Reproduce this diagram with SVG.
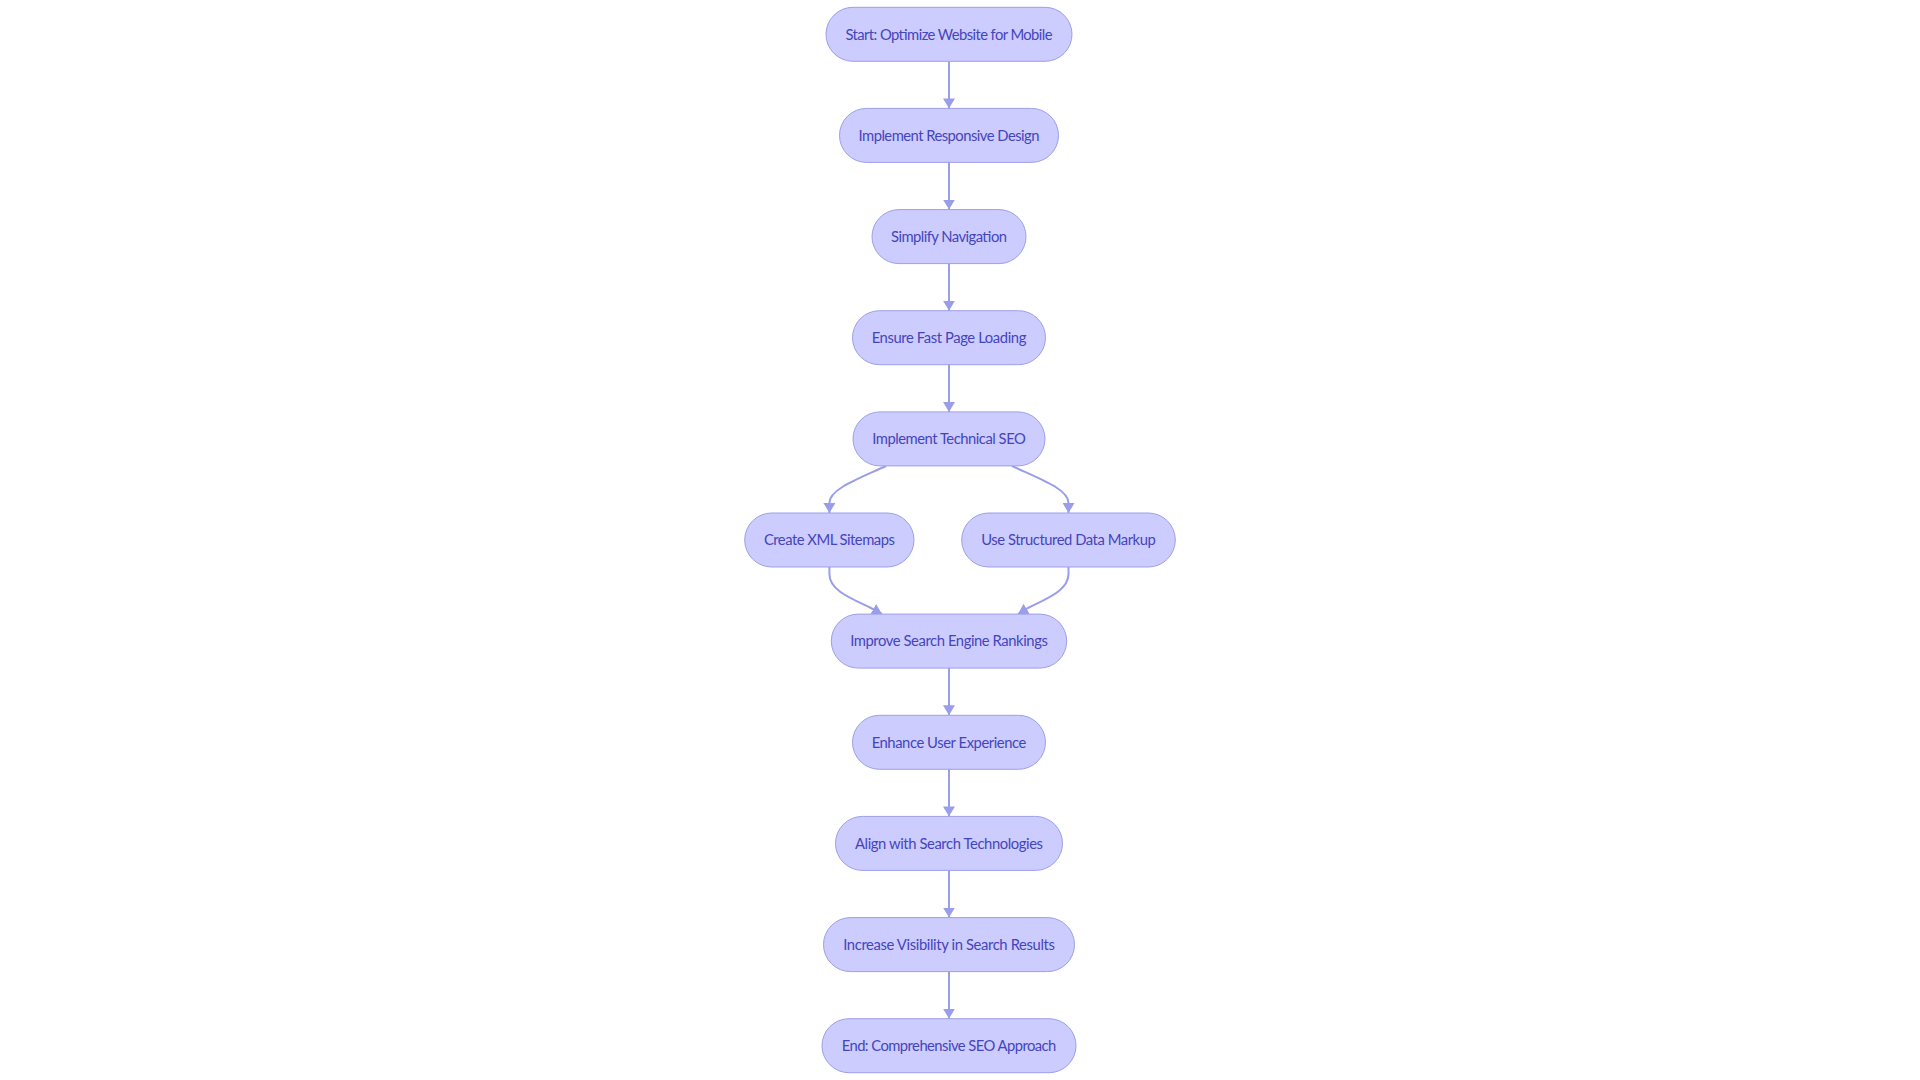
<svg xmlns="http://www.w3.org/2000/svg" width="1920" height="1080" viewBox="0 0 1920 1080">
<style>
.node rect{fill:#ccccff;stroke:#9c9fe8;stroke-width:1}
.node text{font-family:Lato,"Liberation Sans",sans-serif;font-size:14.8px;fill:#4545bb;text-anchor:middle}
.edge{fill:none;stroke:#9a9de9;stroke-width:2;marker-end:url(#arr)}
</style>
<defs>
<marker id="arr" viewBox="0 0 10 12" refX="10" refY="6" markerWidth="10" markerHeight="12" markerUnits="userSpaceOnUse" orient="auto"><path d="M0,0 L10,6 L0,12 z" fill="#9a9de9"/></marker>
</defs>
<rect width="1920" height="1080" fill="#ffffff"/>
<g id="connectors">
<path class="edge" d="M949,61.3 L949,108.4"/>
<path class="edge" d="M949,162.4 L949,209.6"/>
<path class="edge" d="M949,263.6 L949,310.7"/>
<path class="edge" d="M949,364.7 L949,411.9"/>
<path class="edge" d="M886,466 C858,479 829.4,489 829.4,503 L829.4,513"/>
<path class="edge" d="M1012,466 C1040,479 1068.5,489 1068.5,503 L1068.5,513"/>
<path class="edge" d="M829.4,567 L829.4,574 C829.4,590 850,598 870,607.5 L882,614"/>
<path class="edge" d="M1068.5,567 L1068.5,574 C1068.5,590 1048,598 1029,607.5 L1018,614"/>
<path class="edge" d="M949,668.1 L949,715.3"/>
<path class="edge" d="M949,769.3 L949,816.4"/>
<path class="edge" d="M949,870.4 L949,917.6"/>
<path class="edge" d="M949,971.6 L949,1018.7"/>
</g>
<g id="n0" class="node"><rect x="826" y="7.3" width="246" height="54" rx="27"/><text x="949" y="39.5" textLength="207" lengthAdjust="spacing">Start: Optimize Website for Mobile</text></g>
<g id="n1" class="node"><rect x="839.5" y="108.4" width="219" height="54" rx="27"/><text x="949" y="140.6" textLength="181" lengthAdjust="spacing">Implement Responsive Design</text></g>
<g id="n2" class="node"><rect x="872" y="209.6" width="154" height="54" rx="27"/><text x="949" y="241.8" textLength="116" lengthAdjust="spacing">Simplify Navigation</text></g>
<g id="n3" class="node"><rect x="852.5" y="310.7" width="193" height="54" rx="27"/><text x="949" y="342.9" textLength="154.7" lengthAdjust="spacing">Ensure Fast Page Loading</text></g>
<g id="n4" class="node"><rect x="853" y="411.9" width="192" height="54" rx="27"/><text x="949" y="444.1" textLength="153.7" lengthAdjust="spacing">Implement Technical SEO</text></g>
<g id="n5a" class="node"><rect x="744.7" y="513" width="169.3" height="54" rx="27"/><text x="829.4" y="545.2" textLength="131" lengthAdjust="spacing">Create XML Sitemaps</text></g>
<g id="n5b" class="node"><rect x="961.7" y="513" width="213.6" height="54" rx="27"/><text x="1068.5" y="545.2" textLength="174.5" lengthAdjust="spacing">Use Structured Data Markup</text></g>
<g id="n6" class="node"><rect x="831.3" y="614.1" width="235.4" height="54" rx="27"/><text x="949" y="646.3" textLength="197.7" lengthAdjust="spacing">Improve Search Engine Rankings</text></g>
<g id="n7" class="node"><rect x="852.5" y="715.3" width="193" height="54" rx="27"/><text x="949" y="747.5" textLength="154.7" lengthAdjust="spacing">Enhance User Experience</text></g>
<g id="n8" class="node"><rect x="835.5" y="816.4" width="227" height="54" rx="27"/><text x="949" y="848.6" textLength="188" lengthAdjust="spacing">Align with Search Technologies</text></g>
<g id="n9" class="node"><rect x="823.5" y="917.6" width="251" height="54" rx="27"/><text x="949" y="949.8" textLength="211.7" lengthAdjust="spacing">Increase Visibility in Search Results</text></g>
<g id="n10" class="node"><rect x="822" y="1018.7" width="254" height="54" rx="27"/><text x="949" y="1050.9" textLength="214.7" lengthAdjust="spacing">End: Comprehensive SEO Approach</text></g>
</svg>
